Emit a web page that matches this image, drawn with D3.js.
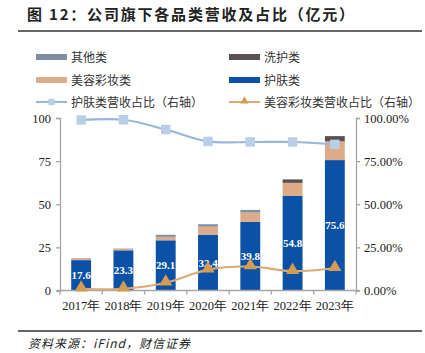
<!DOCTYPE html>
<html>
<head>
<meta charset="utf-8">
<script src="https://cdn.jsdelivr.net/npm/d3@7"></script>
<style>
  body { margin: 0; background: #fff; }
  svg { display: block; }
</style>
</head>
<body>
<svg id="chart" width="425" height="353"></svg>
<script>
// 公司旗下各品类营收（亿元）及护肤、彩妆占比

const years = ["2017年", "2018年", "2019年", "2020年", "2021年", "2022年", "2023年"];
const skinCare = [17.6, 23.3, 29.1, 32.4, 39.8, 54.8, 75.6];
const makeup = [1.0, 0.8, 2.0, 4.6, 5.4, 7.6, 10.9];
const others = [0.2, 0.2, 1.2, 1.4, 1.5, 0, 0];
const washCare = [0, 0, 0, 0, 0, 2.0, 3.0];
const skinShare = [0.988, 0.99, 0.933, 0.864, 0.861, 0.861, 0.847];
const makeupShare = [0.01, 0.01, 0.045, 0.121, 0.139, 0.112, 0.129];
const leftTicks = [0, 25, 50, 75, 100];
const rightTicks = [0, 0.25, 0.5, 0.75, 1];

const colors = {
    skin: "#0b51a6",
    makeup: "#deab87",
    other: "#7e8ea4",
    wash: "#595153",
    skinLine: "#98b5da",
    skinMark: "#b9cfe8",
    makeupLine: "#dcab74",
    makeupMark: "#d49b52"
};

const svg = d3.select("#chart");
const serif = "'Liberation Serif', 'Times New Roman', serif";
const cjk = "'Noto Sans CJK SC', sans-serif";

// title
svg.append("text")
    .attr("x", 27).attr("y", 20)
    .attr("font-family", cjk).attr("font-size", 15).attr("font-weight", "bold")
    .attr("letter-spacing", 1.8)
    .attr("fill", "#222")
    .text("图 12：公司旗下各品类营收及占比（亿元）");
svg.append("line").attr("x1", 18).attr("x2", 422).attr("y1", 31).attr("y2", 31)
    .attr("stroke", "#333").attr("stroke-width", 1.5);
svg.append("line").attr("x1", 18).attr("x2", 422).attr("y1", 331).attr("y2", 331)
    .attr("stroke", "#333").attr("stroke-width", 1.5);
svg.append("text")
    .attr("x", 28).attr("y", 348)
    .attr("font-family", cjk).attr("font-size", 12).attr("font-style", "italic")
    .attr("letter-spacing", 1)
    .attr("fill", "#222")
    .text("资料来源：iFind，财信证券");

const margin = { left: 60, right: 356, top: 118, bottom: 290.5 };

const x = d3.scaleBand().domain(years).range([margin.left, margin.right]).paddingInner(0.53).paddingOuter(0.265);
const band = d3.scaleBand().domain(years).range([margin.left, margin.right]);
const y = d3.scaleLinear().domain([0, 100]).range([margin.bottom, margin.top]);
const y2 = d3.scaleLinear().domain([0, 1]).range([margin.bottom, margin.top]);

const rows = years.map((yr, i) => ({
    year: yr, skin: skinCare[i], makeup: makeup[i], other: others[i], wash: washCare[i]
}));
const keys = ["skin", "makeup", "other", "wash"];
const stack = d3.stack().keys(keys)(rows);

const axisColor = "#a6a6a6";

// axes
const leftAxis = svg.append("g")
    .attr("transform", `translate(${margin.left},0)`)
    .call(d3.axisLeft(y).tickValues(leftTicks).tickSize(4).tickPadding(5));
const rightAxis = svg.append("g")
    .attr("transform", `translate(${margin.right},0)`)
    .call(d3.axisRight(y2).tickValues(rightTicks).tickSize(4).tickPadding(4)
        .tickFormat(d => (d * 100).toFixed(2) + "%"));
[leftAxis, rightAxis].forEach(g => {
    g.select(".domain").attr("stroke", axisColor).attr("stroke-width", 1.3);
    g.selectAll(".tick line").attr("stroke", axisColor).attr("stroke-width", 1.3);
    g.selectAll(".tick text").attr("font-family", serif).attr("font-size", 12.5).attr("fill", "#222");
});

// bars
svg.append("g").selectAll("g")
    .data(stack)
    .join("g")
    .attr("fill", d => colors[d.key])
    .selectAll("rect")
    .data(d => d)
    .join("rect")
    .attr("x", d => x(d.data.year))
    .attr("width", x.bandwidth())
    .attr("y", d => y(d[1]))
    .attr("height", d => y(d[0]) - y(d[1]));

// bottom axis
const bottomAxis = svg.append("g")
    .attr("transform", `translate(0,${margin.bottom})`);
bottomAxis.append("line")
    .attr("x1", margin.left - 3).attr("x2", margin.right + 3)
    .attr("stroke", axisColor).attr("stroke-width", 1.3);
bottomAxis.selectAll("line.tk")
    .data(years.concat(["end"]))
    .join("line")
    .attr("class", "tk")
    .attr("x1", (d, i) => margin.left + i * band.bandwidth())
    .attr("x2", (d, i) => margin.left + i * band.bandwidth())
    .attr("y1", 0).attr("y2", 4)
    .attr("stroke", axisColor).attr("stroke-width", 1.3);
bottomAxis.selectAll("text")
    .data(years)
    .join("text")
    .attr("x", d => band(d) + band.bandwidth() / 2)
    .attr("y", 19)
    .attr("text-anchor", "middle")
    .attr("font-family", serif).attr("font-size", 12.5).attr("fill", "#222")
    .text(d => d);

// labels on skin care bars
svg.append("g").selectAll("text")
    .data(rows)
    .join("text")
    .attr("x", d => x(d.year) + x.bandwidth() / 2)
    .attr("y", d => y(d.skin / 2) + 4)
    .attr("text-anchor", "middle")
    .attr("font-family", serif).attr("font-size", 11).attr("font-weight", "bold")
    .attr("fill", "#fff")
    .text(d => d.skin.toFixed(1));

// share lines
const cx = yr => band(yr) + band.bandwidth() / 2;
const line = d3.line().curve(d3.curveCatmullRom.alpha(0.5));

svg.append("path")
    .attr("d", line(years.map((yr, i) => [cx(yr), y2(skinShare[i])])))
    .attr("fill", "none").attr("stroke", colors.skinLine).attr("stroke-width", 2.2);
svg.append("path")
    .attr("d", line(years.map((yr, i) => [cx(yr), y2(makeupShare[i])])))
    .attr("fill", "none").attr("stroke", colors.makeupLine).attr("stroke-width", 2.2);

svg.append("g").selectAll("path")
    .data(skinShare)
    .join("path")
    .attr("d", d3.symbol(d3.symbolSquare, 90))
    .attr("transform", (d, i) => `translate(${cx(years[i])},${y2(d)})`)
    .attr("fill", colors.skinMark);
svg.append("g").selectAll("path")
    .data(makeupShare)
    .join("path")
    .attr("d", d3.symbol(d3.symbolTriangle, 75))
    .attr("transform", (d, i) => `translate(${cx(years[i])},${y2(d) - 1})`)
    .attr("fill", colors.makeupMark);

// legend
const legendItems = [
    { label: "其他类", type: "bar", color: colors.other, x: 36, y: 57 },
    { label: "洗护类", type: "bar", color: colors.wash, x: 229, y: 57 },
    { label: "美容彩妆类", type: "bar", color: colors.makeup, x: 36, y: 80 },
    { label: "护肤类", type: "bar", color: colors.skin, x: 229, y: 80 },
    { label: "护肤类营收占比（右轴）", type: "square", color: colors.skinLine, mark: colors.skinMark, x: 36, y: 102 },
    { label: "美容彩妆类营收占比（右轴）", type: "triangle", color: colors.makeupLine, mark: colors.makeupMark, x: 229, y: 102 }
];
const legend = svg.append("g").selectAll("g")
    .data(legendItems)
    .join("g")
    .attr("transform", d => `translate(${d.x},${d.y})`);
legend.filter(d => d.type === "bar").append("rect")
    .attr("x", 0).attr("y", -3).attr("width", 31).attr("height", 6)
    .attr("fill", d => d.color);
legend.filter(d => d.type !== "bar").append("line")
    .attr("x1", 0).attr("x2", 31)
    .attr("stroke", d => d.color).attr("stroke-width", 2);
legend.filter(d => d.type === "square").append("path")
    .attr("d", d3.symbol(d3.symbolSquare, 40))
    .attr("transform", "translate(15.5,0)")
    .attr("fill", d => d.mark);
legend.filter(d => d.type === "triangle").append("path")
    .attr("d", d3.symbol(d3.symbolTriangle, 30))
    .attr("transform", "translate(15.5,-1)")
    .attr("fill", d => d.mark);
legend.append("text")
    .attr("x", 35).attr("y", 4.5)
    .attr("font-family", cjk).attr("font-size", 12).attr("fill", "#333")
    .text(d => d.label);
</script>
</body>
</html>
